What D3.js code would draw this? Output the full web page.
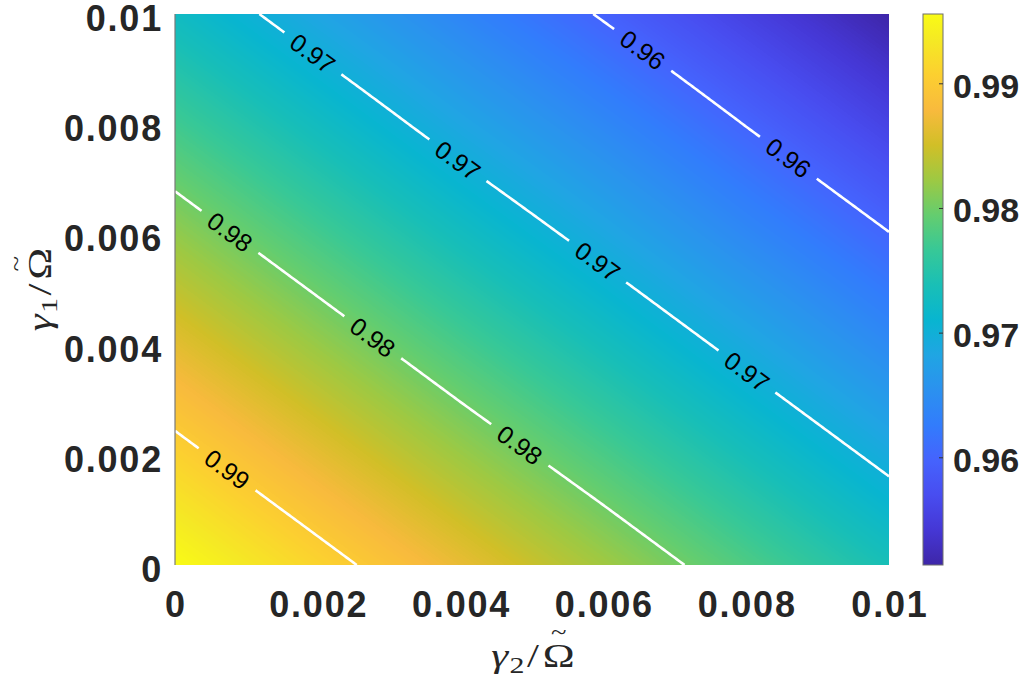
<!DOCTYPE html>
<html>
<head>
<meta charset="utf-8">
<script src="https://cdn.jsdelivr.net/npm/d3@7"></script>
<style>
  body { margin: 0; background: #fff; }
  svg { display: block; }
</style>
</head>
<body>
<div id="chart"></div>
<script>
// values, rows go with gamma1 (y), columns with gamma2 (x)
const gamma2 = [0, 0.002, 0.004, 0.006, 0.008, 0.01]
const gamma1 = [0, 0.002, 0.004, 0.006, 0.008, 0.01]
const fidelity = [
  [0.9956, 0.9912, 0.9868, 0.9825, 0.9781, 0.9737],
  [0.9910, 0.9866, 0.9822, 0.9779, 0.9735, 0.9691],
  [0.9864, 0.9820, 0.9776, 0.9733, 0.9689, 0.9645],
  [0.9818, 0.9774, 0.9730, 0.9687, 0.9643, 0.9601],
  [0.9772, 0.9728, 0.9684, 0.9642, 0.9599, 0.9557],
  [0.9726, 0.9682, 0.9639, 0.9597, 0.9555, 0.9514],
]

const levels = [0.96, 0.97, 0.98, 0.99]
// gamma2 positions where the contour labels sit, one list per level
const labelPos = [
  [0.00655, 0.00859],
  [0.00193, 0.00396, 0.00592, 0.00801],
  [0.00077, 0.00277, 0.00483],
  [0.00073],
]
const xTicks = [0, 0.002, 0.004, 0.006, 0.008, 0.01]
const yTicks = [0, 0.002, 0.004, 0.006, 0.008, 0.01]
const cbTicks = [0.96, 0.97, 0.98, 0.99]

// MATLAB parula, every 4th entry of the 64 colour map
const parula = [
  [0.2422, 0.1504, 0.6603], [0.2706, 0.2147, 0.8364], [0.2813, 0.3006, 0.9414],
  [0.2699, 0.3892, 0.9906], [0.1963, 0.4847, 0.9892], [0.1687, 0.5703, 0.9359],
  [0.1248, 0.6459, 0.8883], [0.0297, 0.7082, 0.8163], [0.0964, 0.7500, 0.7120],
  [0.2161, 0.7843, 0.5923], [0.3909, 0.8029, 0.4354], [0.6174, 0.7876, 0.2612],
  [0.8203, 0.7498, 0.1535], [0.9728, 0.7298, 0.2394], [0.9892, 0.8136, 0.1885],
  [0.9597, 0.9135, 0.1423], [0.9769, 0.9839, 0.0805],
].map(c => d3.rgb(c[0] * 255, c[1] * 255, c[2] * 255).formatHex())
const parulaPos = [0, 4, 8, 12, 16, 20, 24, 28, 32, 36, 40, 44, 48, 52, 56, 60, 63].map(i => i / 63)

const W = 1025, H = 682
const pLeft = 175, pRight = 889, pTop = 14, pBottom = 565

const x = d3.scaleLinear().domain([0, 0.01]).range([pLeft, pRight])
const y = d3.scaleLinear().domain([0, 0.01]).range([pBottom, pTop])

const [vmin, vmax] = d3.extent(fidelity.flat())
const cmap = d3.scaleLinear().domain(parulaPos).range(parula).clamp(true)
const norm = d3.scaleLinear().domain([vmin, vmax]).range([0, 1]).clamp(true)
const lut = d3.range(256).map(k => d3.rgb(cmap(k / 255)))

// bilinear lookup in the grid
const cell = (arr, v) => Math.max(0, Math.min(arr.length - 2, d3.bisectRight(arr, v) - 1))
const valueAt = (gx, gy) => {
  const i = cell(gamma2, gx), j = cell(gamma1, gy)
  const tx = (gx - gamma2[i]) / (gamma2[i + 1] - gamma2[i])
  const ty = (gy - gamma1[j]) / (gamma1[j + 1] - gamma1[j])
  const a = fidelity[j][i] * (1 - tx) + fidelity[j][i + 1] * tx
  const b = fidelity[j + 1][i] * (1 - tx) + fidelity[j + 1][i + 1] * tx
  return a * (1 - ty) + b * ty
}

const svg = d3.select("#chart").append("svg").attr("width", W).attr("height", H)

// heat map drawn to a canvas, then placed in the svg
const pw = pRight - pLeft, ph = pBottom - pTop
const cv = document.createElement("canvas")
cv.width = pw
cv.height = ph
const ctx = cv.getContext("2d")
const img = ctx.createImageData(pw, ph)
for (let py = 0; py < ph; py++) {
  const gy = y.invert(pTop + py + 0.5)
  for (let px = 0; px < pw; px++) {
    const gx = x.invert(pLeft + px + 0.5)
    const c = lut[Math.round(norm(valueAt(gx, gy)) * 255)]
    const o = (py * pw + px) * 4
    img.data[o] = c.r
    img.data[o + 1] = c.g
    img.data[o + 2] = c.b
    img.data[o + 3] = 255
  }
}
ctx.putImageData(img, 0, 0)
svg.append("image")
  .attr("x", pLeft).attr("y", pTop)
  .attr("width", pw).attr("height", ph)
  .attr("preserveAspectRatio", "none")
  .attr("href", cv.toDataURL())

// contour: for every gamma2 find the gamma1 where the field crosses the level
const crossY = (gx, lv) => {
  const col = gamma1.map(gy => valueAt(gx, gy))
  for (let j = 0; j < col.length - 1; j++) {
    if ((col[j] - lv) * (col[j + 1] - lv) <= 0 && col[j] !== col[j + 1]) {
      return gamma1[j] + (col[j] - lv) / (col[j] - col[j + 1]) * (gamma1[j + 1] - gamma1[j])
    }
  }
  return null
}
const crossX = (gy, lv) => {
  const row = gamma2.map(gx => valueAt(gx, gy))
  for (let i = 0; i < row.length - 1; i++) {
    if ((row[i] - lv) * (row[i + 1] - lv) <= 0 && row[i] !== row[i + 1]) {
      return gamma2[i] + (row[i] - lv) / (row[i] - row[i + 1]) * (gamma2[i + 1] - gamma2[i])
    }
  }
  return null
}
const contourPts = lv => {
  const pts = []
  d3.range(0, 401).forEach(k => {
    const gx = k / 400 * 0.01
    const gy = crossY(gx, lv)
    if (gy !== null) pts.push([gx, gy])
  })
  ;[0, 0.01].forEach(gy => {
    const gx = crossX(gy, lv)
    if (gx !== null) pts.push([gx, gy])
  })
  return pts.sort((a, b) => a[0] - b[0])
}

const line = d3.line().x(d => x(d[0])).y(d => y(d[1]))

const defs = svg.append("defs")
const mask = defs.append("mask")
  .attr("id", "gaps").attr("maskUnits", "userSpaceOnUse")
  .attr("x", 0).attr("y", 0).attr("width", W).attr("height", H)
mask.append("rect").attr("width", W).attr("height", H).attr("fill", "#fff")

svg.append("g")
  .attr("mask", "url(#gaps)")
  .selectAll("path")
  .data(levels)
  .enter()
  .append("path")
  .attr("d", d => line(contourPts(d)))
  .attr("fill", "none")
  .attr("stroke", "#fff")
  .attr("stroke-width", 2.6)

// contour labels, turned along the line, with a gap cut out of the line
const labelG = svg.append("g")
levels.forEach((lv, li) => {
  labelPos[li].forEach(gx => {
    const gy = crossY(gx, lv)
    const p0 = [x(gx - 0.0003), y(crossY(gx - 0.0003, lv))]
    const p1 = [x(gx + 0.0003), y(crossY(gx + 0.0003, lv))]
    const ang = Math.atan2(p1[1] - p0[1], p1[0] - p0[0]) * 180 / Math.PI
    const tf = `translate(${x(gx)},${y(gy)}) rotate(${ang})`
    const t = labelG.append("text")
      .attr("transform", tf)
      .attr("text-anchor", "middle")
      .attr("dy", "0.36em")
      .attr("font-family", "'Liberation Sans', Arial, sans-serif")
      .attr("font-size", 25)
      .attr("fill", "#000")
      .text(lv.toFixed(2))
    const tw = t.node().getComputedTextLength() + 22
    mask.append("rect")
      .attr("transform", tf)
      .attr("x", -tw / 2).attr("y", -14)
      .attr("width", tw).attr("height", 28)
      .attr("fill", "#000")
  })
})

// left axis line
svg.append("line")
  .attr("x1", pLeft).attr("x2", pLeft)
  .attr("y1", pTop).attr("y2", pBottom)
  .attr("stroke", "#7a7a7a").attr("stroke-width", 1.2)

const tickFont = "'Liberation Sans', Arial, Helvetica, sans-serif"

svg.append("g")
  .selectAll("text")
  .data(xTicks)
  .enter()
  .append("text")
  .attr("x", d => x(d) + 1)
  .attr("y", 617)
  .attr("text-anchor", "middle")
  .attr("font-family", tickFont)
  .attr("font-weight", "bold")
  .attr("font-size", 36)
  .attr("letter-spacing", 1.8)
  .attr("fill", "#262626")
  .text(d => d)

svg.append("g")
  .selectAll("text")
  .data(yTicks)
  .enter()
  .append("text")
  .attr("x", 163)
  .attr("y", d => y(d))
  .attr("dy", "0.47em")
  .attr("text-anchor", "end")
  .attr("font-family", tickFont)
  .attr("font-weight", "bold")
  .attr("font-size", 36)
  .attr("letter-spacing", 1.8)
  .attr("fill", "#262626")
  .text(d => d)

// axis titles, latex-like: gamma_k / Omega-tilde
const mathLabel = (g, sub) => {
  const inner = g.append("g").attr("transform", "scale(1.3,1)")
  const t = inner.append("text")
    .attr("font-family", "'Liberation Serif', 'DejaVu Serif', serif")
    .attr("font-size", 33)
    .attr("fill", "#262626")
  t.append("tspan").attr("font-style", "italic").text("γ")
  t.append("tspan").attr("font-size", 23).attr("dy", 6).attr("dx", 1).text(sub)
  t.append("tspan").attr("dy", -6).attr("dx", 2).text("/")
  t.append("tspan").attr("dx", 3).text("Ω")
  const w = t.node().getComputedTextLength() + 6
  t.attr("x", -w / 2)
  const om = t.node().getExtentOfChar(3)
  inner.append("text")
    .attr("x", om.x + om.width / 2)
    .attr("y", -28)
    .attr("text-anchor", "middle")
    .attr("font-family", "'Liberation Serif', 'DejaVu Serif', serif")
    .attr("font-size", 22)
    .attr("fill", "#262626")
    .text("~")
}
mathLabel(svg.append("g").attr("transform", `translate(${(pLeft + pRight) / 2 + 1},667)`), "2")
mathLabel(svg.append("g").attr("transform", `translate(51,${(pTop + pBottom) / 2}) rotate(-90)`), "1")

// colour bar
const cbx = 923, cbw = 20
const cby = d3.scaleLinear().domain([vmin, vmax]).range([pBottom, pTop])
const grad = defs.append("linearGradient")
  .attr("id", "cbgrad").attr("x1", 0).attr("y1", 1).attr("x2", 0).attr("y2", 0)
grad.selectAll("stop")
  .data(parula)
  .enter()
  .append("stop")
  .attr("offset", (d, i) => parulaPos[i])
  .attr("stop-color", d => d)

svg.append("rect")
  .attr("x", cbx).attr("y", pTop)
  .attr("width", cbw).attr("height", pBottom - pTop)
  .attr("fill", "url(#cbgrad)")
  .attr("stroke", "#6e6e6e").attr("stroke-width", 1)

const cbt = svg.append("g").selectAll("g").data(cbTicks).enter().append("g")
cbt.append("line")
  .attr("x1", cbx + cbw - 4).attr("x2", cbx + cbw)
  .attr("y1", d => cby(d)).attr("y2", d => cby(d))
  .attr("stroke", "#333").attr("stroke-width", 1)
cbt.append("text")
  .attr("x", 953)
  .attr("y", d => cby(d))
  .attr("dy", "0.41em")
  .attr("font-family", tickFont)
  .attr("font-weight", "bold")
  .attr("font-size", 34)
  .attr("fill", "#262626")
  .text(d => d.toFixed(2))
</script>
</body>
</html>
